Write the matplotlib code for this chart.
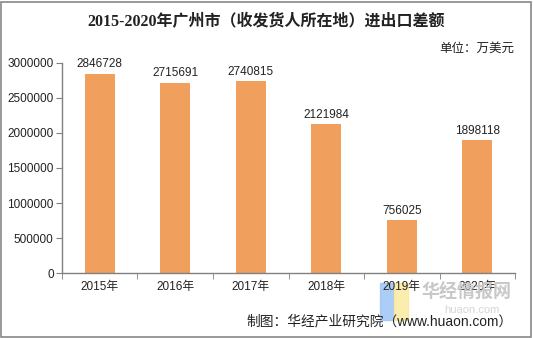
import matplotlib
matplotlib.use("Agg")
import matplotlib.pyplot as plt
from matplotlib.patches import Rectangle

plt.rcParams['font.family'] = ['Liberation Sans', 'Noto Sans CJK SC', 'DejaVu Sans']

years = ["2015年", "2016年", "2017年", "2018年", "2019年", "2020年"]
values = [2846728, 2715691, 2740815, 2121984, 756025, 1898118]
yticks = [0, 500000, 1000000, 1500000, 2000000, 2500000, 3000000]

bar_color = "#F0A05C"
axis_color = "#808080"

fig = plt.figure(figsize=(5.33, 3.38), dpi=100)
fig.patch.set_facecolor("white")
# border
fig.add_artist(Rectangle((0.002, 0.003), 0.994, 0.992, transform=fig.transFigure,
                         fill=False, edgecolor="#888888", linewidth=1.2))

ax = fig.add_axes([0.1163, 0.192, 0.850, 0.622])
x = list(range(len(years)))
ax.bar(x, values, width=0.4, color=bar_color, zorder=2)
for xi, v in zip(x, values):
    ax.text(xi, v + 50000, str(v), ha="center", va="bottom", fontsize=8.5, color="#222222")

ax.set_xlim(-0.5, len(years) - 0.5)
ax.set_ylim(0, 3000000)
ax.set_yticks(yticks)
ax.set_yticklabels([str(t) for t in yticks], fontsize=8.5, color="#222222")
ax.set_xticks(x)
ax.set_xticklabels(years, fontsize=8.5, color="#222222")
ax.tick_params(axis="x", length=0, pad=6)
ax.set_xticks([i + 0.5 for i in range(-1, len(years))], minor=True)
ax.tick_params(axis="x", which="minor", length=4, color=axis_color)
ax.tick_params(axis="y", length=4, color=axis_color, pad=2)
for s in ["top", "right"]:
    ax.spines[s].set_visible(False)
for s in ["left", "bottom"]:
    ax.spines[s].set_color(axis_color)
    ax.spines[s].set_linewidth(1.0)

fig.text(0.5, 0.935, "2015-2020年广州市（收发货人所在地）进出口差额", ha="center", va="center",
         fontsize=11.5, fontweight="bold", color="#222222",
         family=['Liberation Serif', 'Noto Sans CJK SC', 'DejaVu Sans'])
fig.text(0.965, 0.855, "单位：万美元", ha="right", va="center", fontsize=9, color="#222222")

# watermark
fig.add_artist(Rectangle((380/533, 1-320/338), 14/533, 37/338, transform=fig.transFigure,
                         color="#9EC5F5", alpha=0.85, zorder=0))
fig.add_artist(Rectangle((394/533, 1-320/338), 14/533, 37/338, transform=fig.transFigure,
                         color="#FBEAA0", alpha=0.85, zorder=0))
fig.text(0.875, 0.135, "华经情报网", ha="center", va="center", fontsize=13, color="#C8C8C8", fontweight="bold")
fig.text(0.885, 0.083, "huaon.com", ha="center", va="center", fontsize=8, color="#D5D5D5")

fig.text(0.962, 0.05, "制图：华经产业研究院（www.huaon.com）", ha="right", va="center",
         fontsize=9.9, color="#222222")

fig.savefig("out.png", dpi=100)
